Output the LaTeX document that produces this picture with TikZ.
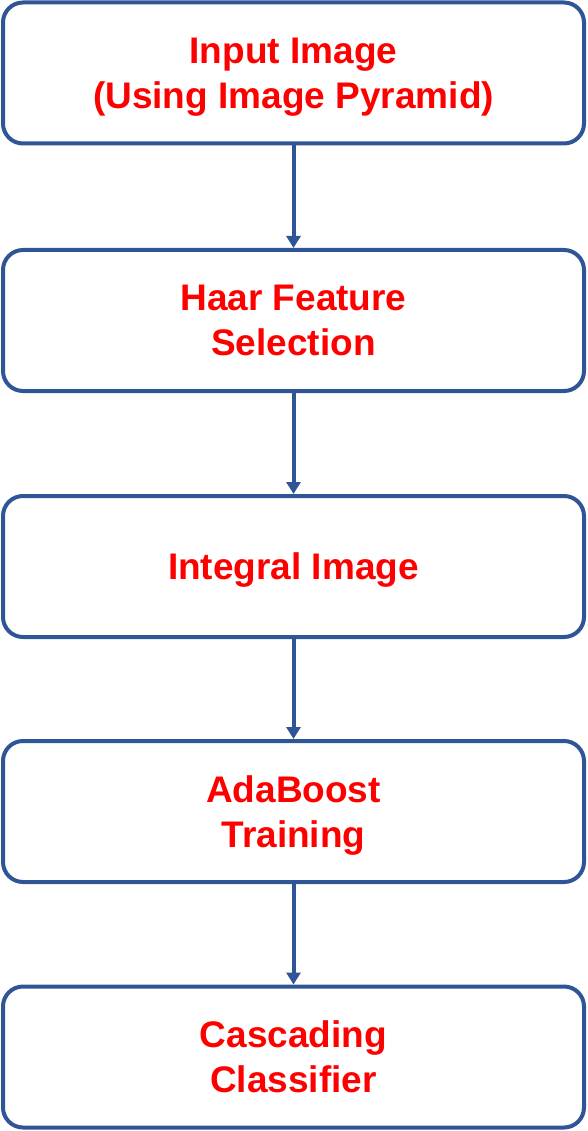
\documentclass[tikz,border=0pt]{standalone}
\usepackage{fontspec}
\setmainfont{Liberation Sans}
\usetikzlibrary{arrows.meta}
\definecolor{boxblue}{HTML}{2F5597}
\definecolor{txtred}{HTML}{FF0000}
\tikzset{
  stagebox/.style={draw=boxblue, line width=4pt, rounded corners=20pt,
    minimum width=581pt, minimum height=141pt, inner sep=0pt},
  stagetext/.style={align=center, text=txtred, inner sep=0pt, text depth=0pt,
    font=\fontsize{37}{45}\selectfont\bfseries},
  flowarrow/.style={draw=boxblue, line width=4pt,
    -{Triangle[width=14pt,length=12pt]}}
}
\begin{document}
\begin{tikzpicture}[x=1pt,y=-1pt]
\useasboundingbox (0,0) rectangle (587,1131);
\node[stagebox] (n1) at (293.5,73) {};
\node[stagebox] (n2) at (293.5,320.5) {};
\node[stagebox] (n3) at (293.5,566.5) {};
\node[stagebox] (n4) at (293.5,811.5) {};
\node[stagebox] (n5) at (293.5,1057) {};
\node[stagetext] (t1) at (n1.center) {Input Image\\(Using Image Pyramid)};
\node[stagetext] (t2) at (n2.center) {Haar Feature\\Selection};
\node[stagetext] (t3) at (n3.center) {Integral Image};
\node[stagetext] (t4) at (n4.center) {AdaBoost\\Training};
\node[stagetext] (t5) at (n5.center) {Cascading\\Classifier};
\draw[flowarrow] (n1) -- (n2);
\draw[flowarrow] (n2) -- (n3);
\draw[flowarrow] (n3) -- (n4);
\draw[flowarrow] (n4) -- (n5);
\end{tikzpicture}
\end{document}
